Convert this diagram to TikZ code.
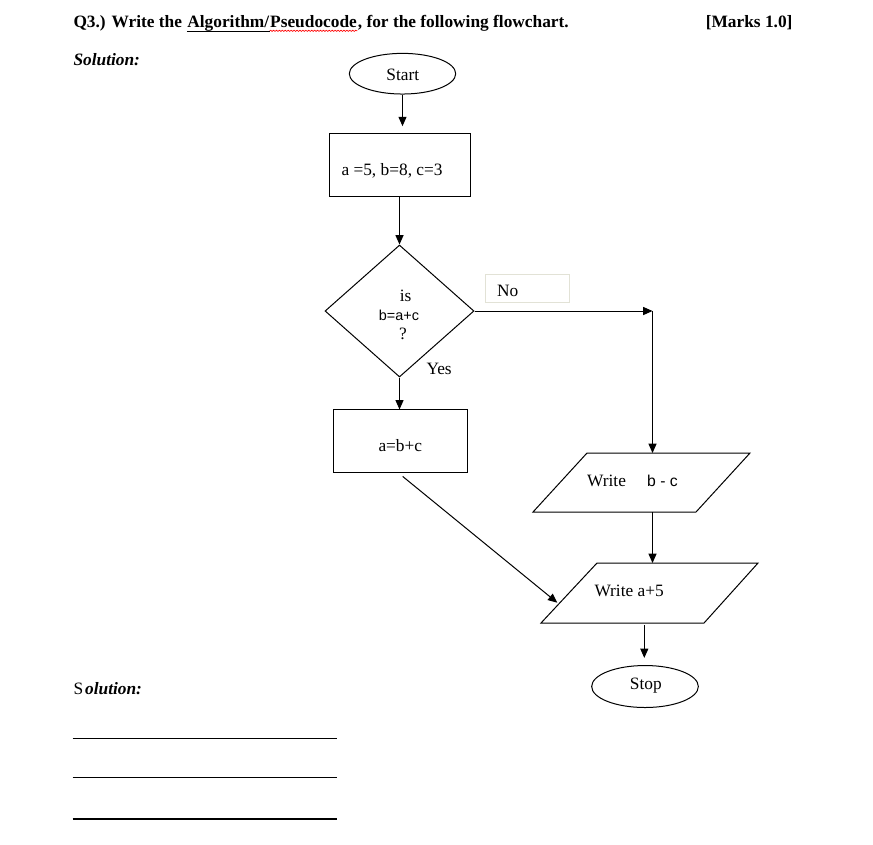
\documentclass[tikz,border=0pt]{standalone}
\usepackage{fontspec}
\setmainfont{Liberation Serif}
\newfontfamily\sansf{Liberation Sans}
\usetikzlibrary{shapes.geometric,arrows.meta,calc,decorations.pathmorphing}
\definecolor{nobord}{RGB}{226,226,214}
\begin{document}
\begin{tikzpicture}[x=0.75pt,y=-0.75pt,line width=0.75pt,
  txt/.style={inner sep=0pt,font=\fontsize{13}{15}\selectfont},
  sanstxt/.style={inner sep=0pt,font=\fontsize{10.8}{13}\sansf},
  hdr/.style={inner sep=0pt,font=\fontsize{13}{15}\selectfont\bfseries},
  solf/.style={inner sep=0pt,font=\fontsize{13}{15}\selectfont\bfseries\itshape},
  term/.style={draw,ellipse,inner sep=0pt},
  procbox/.style={draw,rectangle,inner sep=0pt},
  decbox/.style={draw,diamond,inner sep=0pt},
  arr/.style={-{Triangle[length=7pt,width=6pt]}}]
\useasboundingbox (0,0) rectangle (873,844);
\fill[white] (0,0) rectangle (873,844);

% title
\node[hdr,anchor=base west] (t1) at (73,27) {Q3.) Write the};
\node[hdr,anchor=base west] (alg) at ($(t1.base east)+(4.4,0)$) {Algorithm/};
\node[hdr,anchor=base west] (pse) at (alg.base east) {Pseudocode};
\node[hdr,anchor=base west] (t3) at (pse.base east) {, for the following flowchart.};
\draw[line width=1.1pt] ($(alg.base west)+(0,4.3)$) -- ($(alg.base east)+(0,4.3)$);
\draw[red,line width=0.5pt,decorate,decoration={snake,amplitude=0.45pt,segment length=2.2pt}]
  ($(pse.base west)+(0,3.8)$) -- ($(pse.base east)+(0,3.8)$);
\node[hdr,anchor=base east] (marks) at (793,27) {[Marks 1.0]};
\node[solf,anchor=base west] (sol1) at (73,65.5) {Solution:};

% flowchart
\node[term,minimum width=79.8pt,minimum height=30.5pt] (start) at (402.5,73.7) {};
\node[txt,anchor=base] (starttxt) at (402.8,80) {Start};

\node[procbox,minimum width=105.5pt,minimum height=47.5pt] (box1) at (400.3,165) {};
\node[txt,anchor=base west] (box1txt) at (341,175) {a =5, b=8, c=3};

\node[decbox,minimum width=111.75pt,minimum height=99pt] (dia) at (399.5,311) {};
\node[txt,anchor=base] (distxt) at (405.7,301.5) {is};
\node[sanstxt,anchor=base] (dicond) at (399,320.5) {b=a+c};
\node[txt,anchor=base] (diq) at (403,339) {?};

\node[draw=nobord,line width=0.6pt,minimum width=62.7pt,minimum height=21.2pt,inner sep=0pt] (nobox) at (527.5,288.2) {};
\node[txt,anchor=base west] (notxt) at (496.7,296.5) {No};
\node[txt,anchor=base west] (yes) at (426,374) {Yes};

\node[procbox,minimum width=100.5pt,minimum height=47pt] (box2) at (400.3,441.3) {};
\node[txt,anchor=base] (box2txt) at (400.3,451.7) {a=b+c};

% parallelogram 1
\draw (587,453) -- (750,453) -- (696,512) -- (533,512) -- cycle;
\coordinate (p1top) at (652.5,453);
\coordinate (p1bot) at (652.5,512);
\node[txt,anchor=base west] (w1) at (586.7,486) {Write};
\node[sanstxt,font=\fontsize{11.8}{13}\sansf,anchor=base west] (bc) at (646.7,486) {b - c};

% parallelogram 2
\draw (597,563) -- (758,563) -- (704,623) -- (541,623) -- cycle;
\coordinate (p2top) at (652.5,563);
\coordinate (p2bot) at (644.3,623);
\coordinate (p2in) at (557.3,602.7);
\node[txt,anchor=base west] (w2) at (594,596.5) {Write a+5};

\node[term,minimum width=80pt,minimum height=31.5pt] (stop) at (645,686.5) {};
\node[txt,anchor=base] (stoptxt) at (645.8,689.5) {Stop};

% connectors
\draw[arr,shorten >=5pt] (start.south) -- (start.south |- box1.north);
\draw[arr] (dia.north |- box1.south) -- (dia.north);
\draw[arr] (dia.east) -- (p1top |- dia.east);
\draw[arr] (p1top |- dia.east) -- (p1top);
\draw[arr] (dia.south) -- (dia.south |- box2.north);
\draw[arr] ($(box2.south)+(2.4,3.3)$) -- (p2in);
\draw[arr] (p1bot) -- (p2top);
\draw[arr,shorten <=1.5pt,shorten >=5.3pt] (p2bot) -- (p2bot |- stop.north);

% bottom solution
\node[txt,anchor=base west] (solS) at (73,694) {S};
\node[solf,anchor=base west] (sol2) at ($(solS.base east)+(1,0)$) {olution:};
\draw[line width=1pt] (72.7,738.3) -- (336.7,738.3);
\draw[line width=1pt] (72.7,777.7) -- (336.7,777.7);
\draw[line width=1pt] (72.7,819) -- (336.7,819);
\end{tikzpicture}
\end{document}
